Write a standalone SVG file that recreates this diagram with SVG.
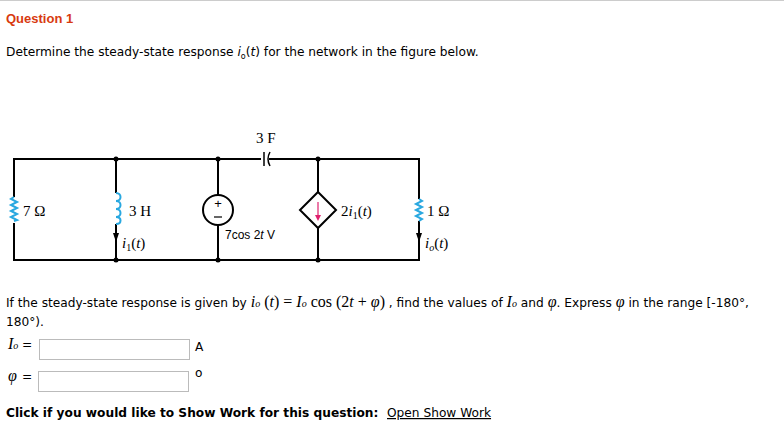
<svg xmlns="http://www.w3.org/2000/svg" width="784" height="434" viewBox="0 0 784 434">
<style>
.t{font-family:"DejaVu Sans",Verdana,sans-serif;font-size:12.2px;fill:#000}
.s{font-family:"Liberation Serif",serif;font-size:15px;fill:#000}
.m{font-family:"Liberation Serif",serif;font-size:16px}
.w{stroke:#000;stroke-width:2;fill:none}
.z{stroke:#29a8e0;stroke-width:2;fill:none}
.box{fill:#fff;stroke:#bbb;stroke-width:1}
</style>
<rect width="784" height="434" fill="#fff"/>
<line x1="0" y1="0.5" x2="784" y2="0.5" stroke="#ccc"/>
<text x="6" y="23" font-family="Liberation Sans,Arial,sans-serif" font-size="13" font-weight="bold" fill="#d83a10">Question 1</text>
<text class="t" x="6" y="56">Determine the steady-state response <tspan font-style="italic">i</tspan><tspan font-size="8" dy="3">o</tspan><tspan dy="-3">(</tspan><tspan font-style="italic">t</tspan>) for the network in the figure below.</text>
<g id="connectors">
<path class="w" d="M261 159H14V260H419V159H269"/>
<path class="w" d="M14 159V197M14 223V260M116 159V193M116 224V260M218 159V195M218 225V260M318 159V192M318 228V260M419 159V199M419 221V260"/>
</g>
<g id="R7"><path d="M14 197V223" stroke="#fff" stroke-width="4"/><path class="z" d="M14 197l-3 2 6 3-6 3 6 3-6 3 6 3-6 3 6 3-3 1"/><text class="s" x="23" y="216">7 Ω</text></g>
<g id="L3"><path d="M116 194V223" stroke="#fff" stroke-width="4"/><path class="z" d="M116 193c6 0 6 8 0 8c6 0 6 8 0 8c6 0 6 8 0 8c6 0 6 7 0 7"/><text class="s" x="129" y="216">3 H</text>
<path d="M113 233l3 9 3-9z" fill="#000"/><text class="s" x="122" y="248"><tspan font-style="italic">i</tspan><tspan font-size="10" dy="3">1</tspan><tspan dy="-3">(</tspan><tspan font-style="italic">t</tspan>)</text></g>
<g id="C3"><path d="M264 152V166" stroke="#000" stroke-width="1.5"/><path d="M270 152q-4 7 0 14" stroke="#000" stroke-width="1.5" fill="none"/><text class="s" x="256" y="143">3 F</text></g>
<g id="V"><circle cx="218" cy="210" r="15" class="w" fill="#fff"/><text x="218" y="208" text-anchor="middle" font-family="Liberation Sans,Arial,sans-serif" font-size="13">+</text><path d="M214 217H222" stroke="#000" stroke-width="1.2"/>
<text x="225" y="239" font-family="Liberation Sans,Arial,sans-serif" font-size="12">7cos 2<tspan font-style="italic">t</tspan> V</text></g>
<g id="D"><path class="w" d="M318 192L336 210 318 228 300 210Z" fill="#fff"/><path d="M318 202V217" stroke="#e0206e" stroke-width="1.2"/><path d="M315 215l3 6 3-6z" fill="#e0206e"/>
<text class="s" x="341" y="216">2<tspan font-style="italic">i</tspan><tspan font-size="10" dy="3">1</tspan><tspan dy="-3">(</tspan><tspan font-style="italic">t</tspan>)</text></g>
<g id="R1"><path d="M419 199V221" stroke="#fff" stroke-width="4"/><path class="z" d="M419 199l3 2-6 3 6 3-6 3 6 3-6 3 6 3-3 2"/><text class="s" x="427" y="216">1 Ω</text>
<path d="M416 233l3 9 3-9z" fill="#000"/><text class="s" x="425" y="248"><tspan font-style="italic">i</tspan><tspan font-size="10" font-style="italic" dy="3">o</tspan><tspan dy="-3">(</tspan><tspan font-style="italic">t</tspan>)</text></g>
<circle cx="116" cy="159" r="2.5"/><circle cx="218" cy="159" r="2.5"/><circle cx="318" cy="159" r="2.5"/>
<circle cx="116" cy="260" r="2.5"/><circle cx="218" cy="260" r="2.5"/><circle cx="318" cy="260" r="2.5"/>
<text class="t" x="6" y="307">If the steady-state response is given by <tspan class="m" font-style="italic">i<tspan font-size="10">o</tspan></tspan><tspan class="m"> (<tspan font-style="italic">t</tspan>) = <tspan font-style="italic">I<tspan font-size="10">o</tspan></tspan>  cos (2<tspan font-style="italic">t</tspan> + <tspan font-style="italic">φ</tspan>)</tspan> , find the values of <tspan class="m" font-style="italic">I<tspan font-size="10">o</tspan></tspan> and <tspan class="m" font-style="italic">φ</tspan>. Express <tspan class="m" font-style="italic">φ</tspan> in the range [-180°,</text>
<text class="t" x="6" y="326">180°).</text>
<text x="8" y="349" class="m" font-style="italic">I<tspan font-size="10">o</tspan></text><text class="t" x="22" y="349">=</text>
<rect class="box" x="39.5" y="339.5" width="150" height="20"/><text class="t" x="195" y="351">A</text>
<text x="8" y="381" class="m" font-style="italic">φ</text><text class="t" x="22" y="381">=</text>
<rect class="box" x="38.5" y="371.5" width="150" height="20"/><text class="t" x="195" y="377" font-size="9">o</text>
<text class="t" x="6" y="417" font-weight="bold">Click if you would like to Show Work for this question:</text>
<text class="t" x="387" y="417" fill="#0a60b0" text-decoration="underline">Open Show Work</text>
</svg>
